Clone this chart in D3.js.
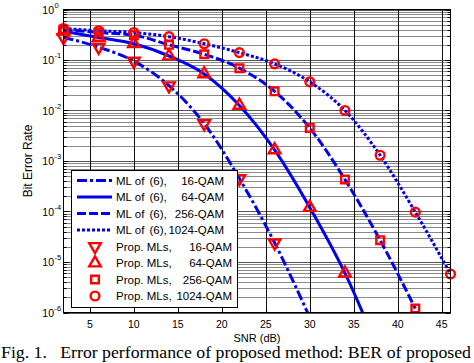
<!DOCTYPE html>
<html><head><meta charset="utf-8">
<script src="https://cdn.jsdelivr.net/npm/d3@7"></script>
<style>
html,body{margin:0;padding:0;background:#fff;}
svg{display:block;font-family:"Liberation Sans",Arial,Helvetica,sans-serif;}
</style></head>
<body>
<svg id="c" width="474" height="363"></svg>
<script>
// ---- data ----
const snrMarkers = [2,6,10,14,18,22,26,30,34,38,42,46];
const ber16   = [0.28,0.18,0.095,0.031,5.5e-3,4.5e-4,2.4e-5];
const ber64   = [0.37,0.28,0.21,0.12,0.053,0.0126,1.66e-3,1.2e-4,6e-6];
const ber256  = [0.40,0.35,0.31,0.20,0.13,0.069,0.024,4.5e-3,4.3e-4,2.7e-5,1.2e-6];
const ber1024 = [0.42,0.38,0.35,0.29,0.21,0.14,0.084,0.037,0.01,1.3e-3,9.7e-5,5.8e-6];
// where the theoretical curves leave the plot at the bottom
const tail16 = [30, 8e-7];
const tail64 = [38, 1.5e-7];
const xTicks = [5,10,15,20,25,30,35,40,45];
const yExps = [0,-1,-2,-3,-4,-5,-6];
const seriesNames = ["16-QAM","64-QAM","256-QAM","1024-QAM"];
const xLabel = "SNR (dB)";
const yLabel = "Bit Error Rate";
const caption = "Fig. 1.   Error performance of proposed method: BER of proposed";

// ---- layout ----
const L=63.5, R=450.5, T=9.5, B=312.5;
const blue="#0000ee", red="#ff0000";
const svg = d3.select("#c");
const x = d3.scaleLinear().domain([2,46]).range([L,R]);
const y = d3.scaleLog().domain([1e-6,1]).range([B,T]);

svg.append("defs").append("clipPath").attr("id","clip")
  .append("rect").attr("x",L).attr("y",T).attr("width",R-L).attr("height",B-T);

const isMajor = v => Math.abs(Math.log10(v)-Math.round(Math.log10(v)))<1e-9;
// grid
const minorVals=[];
for(let e=-6;e<0;e++) for(let m=1;m<10;m++) minorVals.push(m*Math.pow(10,e));
minorVals.push(1);
const g = svg.append("g");
g.selectAll("line.hg").data(minorVals).join("line")
  .attr("x1",L).attr("x2",R).attr("y1",d=>Math.round(y(d))+0.5).attr("y2",d=>Math.round(y(d))+0.5)
  .attr("stroke",d=>isMajor(d)?"#555":"#8a8a8a").attr("stroke-width",1);
g.selectAll("line.vg").data(xTicks).join("line")
  .attr("y1",T).attr("y2",B).attr("x1",d=>Math.round(x(d))+0.5).attr("x2",d=>Math.round(x(d))+0.5)
  .attr("stroke","#111").attr("stroke-width",1);

// curves
const sets = [
  {name:seriesNames[0], vals:ber16, tail:tail16, dash:"10,3,3,3", sym:"down"},
  {name:seriesNames[1], vals:ber64, tail:tail64, dash:null, sym:"up"},
  {name:seriesNames[2], vals:ber256, tail:null, dash:"9,3", sym:"square"},
  {name:seriesNames[3], vals:ber1024, tail:null, dash:"3,2", sym:"circle"}
];
const line = d3.line().x(d=>x(d[0])).y(d=>y(d[1])).curve(d3.curveMonotoneX);
const plot = svg.append("g").attr("clip-path","url(#clip)");
sets.forEach(s=>{
  const pts = s.vals.map((v,i)=>[snrMarkers[i],v]);
  if(s.tail) pts.push(s.tail);
  s.pts = s.vals.map((v,i)=>[snrMarkers[i],v]);
  plot.append("path").datum(pts).attr("d",line).attr("fill","none")
    .attr("stroke",blue).attr("stroke-width",3)
    .attr("stroke-dasharray",s.dash);
});
function symPath(t){
  if(t==="down"||t==="up") return d3.symbol().type(d3.symbolTriangle).size(58)();
  if(t==="square") return d3.symbol().type(d3.symbolSquare).size(58)();
  return d3.symbol().type(d3.symbolCircle).size(60)();
}
function drawSym(sel,t,cx,cy){
  sel.append("path").attr("d",symPath(t))
    .attr("transform",`translate(${cx},${cy})`+(t==="down"?" rotate(180)":""))
    .attr("fill","none").attr("stroke",red).attr("stroke-width",2.4);
}
const mk = svg.append("g");
sets.forEach(s=>{
  s.pts.forEach(p=>drawSym(mk,s.sym,x(p[0]),y(p[1])));
});

// axes box
svg.append("rect").attr("x",L).attr("y",T).attr("width",R-L).attr("height",B-T)
  .attr("fill","none").attr("stroke","#000").attr("stroke-width",1);

// ticks
const tk = svg.append("g").attr("stroke","#000").attr("stroke-width",1);
xTicks.forEach(t=>{
  const xx=Math.round(x(t))+0.5;
  tk.append("line").attr("x1",xx).attr("x2",xx).attr("y1",B).attr("y2",B-4);
  tk.append("line").attr("x1",xx).attr("x2",xx).attr("y1",T).attr("y2",T+4);
});
minorVals.forEach(v=>{
  const yy=Math.round(y(v))+0.5;
  const len = isMajor(v)?5:3;
  tk.append("line").attr("x1",L).attr("x2",L+len).attr("y1",yy).attr("y2",yy);
  tk.append("line").attr("x1",R).attr("x2",R-len).attr("y1",yy).attr("y2",yy);
});

// tick labels
const xl = svg.append("g").attr("font-size",10.5).attr("fill","#000");
xTicks.forEach(t=>{
  xl.append("text").attr("x",x(t)).attr("y",328).attr("text-anchor","middle").text(t);
});
yExps.forEach(e=>{
  const yy=y(Math.pow(10,e));
  xl.append("text").attr("x",54).attr("y",yy+4).attr("text-anchor","end").text("10");
  xl.append("text").attr("x",54.5).attr("y",yy-2).attr("font-size",7.5).text(String(e));
});

// axis labels
svg.append("text").attr("x",(L+R)/2).attr("y",342).attr("text-anchor","middle")
  .attr("font-size",11).text(xLabel);
svg.append("text").attr("transform",`translate(32,${(T+B)/2}) rotate(-90)`)
  .attr("text-anchor","middle").attr("font-size",12).text(yLabel);

// legend
const fs = 11.5;
const lg = svg.append("g");
lg.append("rect").attr("x",71.5).attr("y",170.5).attr("width",166).attr("height",137)
  .attr("fill","#fff").attr("stroke","#000").attr("stroke-width",1);
const rowY = i=>180.5+i*16.5;
sets.forEach((s,i)=>{
  const yy=rowY(i);
  lg.append("line").attr("x1",77).attr("x2",112).attr("y1",yy).attr("y2",yy)
    .attr("stroke",blue).attr("stroke-width",3).attr("stroke-dasharray",s.dash);
  lg.append("text").attr("x",116).attr("y",yy+4.2).attr("font-size",fs).text("ML of");
  lg.append("text").attr("x",149.5).attr("y",yy+4.2).attr("font-size",fs).text("(6),");
  lg.append("text").attr("x",224).attr("y",yy+4.2).attr("font-size",fs).attr("text-anchor","end").text(s.name);
});
sets.forEach((s,i)=>{
  const yy=rowY(i+4);
  drawSym(lg,s.sym,95,yy);
  lg.append("text").attr("x",116).attr("y",yy+4.2).attr("font-size",fs).text("Prop. MLs,");
  lg.append("text").attr("x",232).attr("y",yy+4.2).attr("font-size",fs).attr("text-anchor","end").text(s.name);
});

// caption
svg.append("text").attr("x",1).attr("y",358).attr("font-family","'Liberation Serif','Times New Roman',serif")
  .attr("font-size",16).attr("textLength",470).attr("lengthAdjust","spacingAndGlyphs")
  .attr("xml:space","preserve").style("white-space","pre").text(caption);
</script>
</body></html>
